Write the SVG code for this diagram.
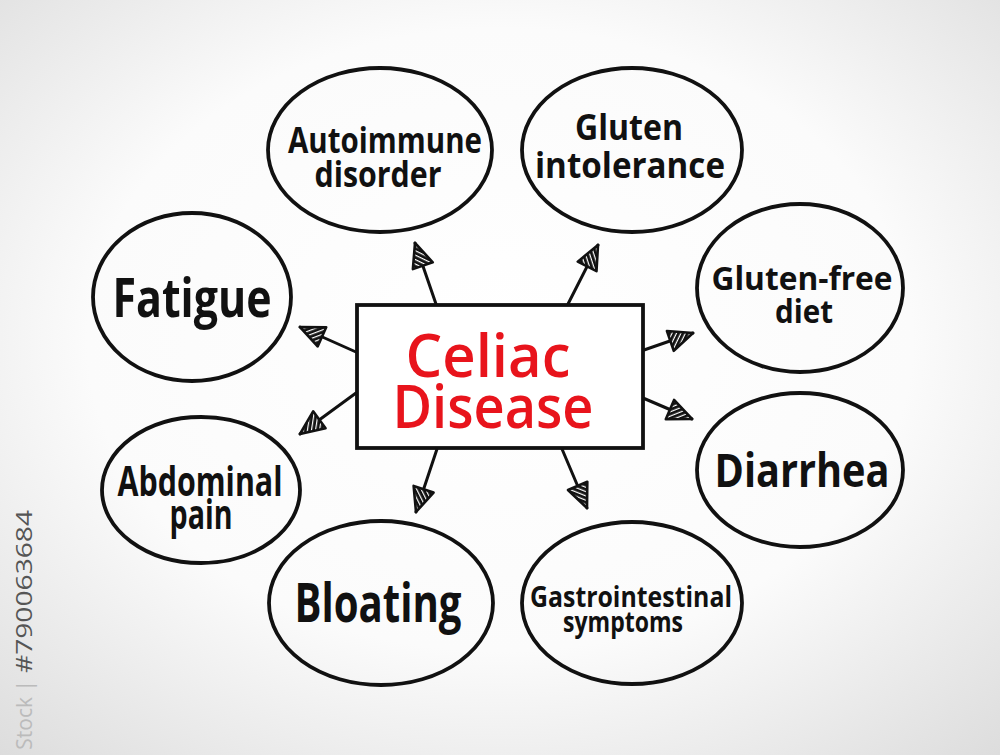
<svg xmlns="http://www.w3.org/2000/svg" width="1000" height="755" viewBox="0 0 1000 755">
  <defs>
    <radialGradient id="bg" cx="50%" cy="45%" r="75%">
      <stop offset="0" stop-color="#ffffff"/>
      <stop offset="0.55" stop-color="#fbfbfb"/>
      <stop offset="1" stop-color="#dcdcdc"/>
    </radialGradient>
    <pattern id="hatch" patternUnits="userSpaceOnUse" width="4" height="4" patternTransform="rotate(45)">
      <rect width="4" height="4" fill="#ffffff"/>
      <rect width="2.8" height="4" fill="#111"/>
    </pattern>
    <marker id="arr" markerUnits="userSpaceOnUse" markerWidth="30" markerHeight="26" refX="25" refY="12" orient="auto" overflow="visible">
      <path d="M1,1.5 L25,12 L1,22.5 Z" fill="url(#hatch)" stroke="#111" stroke-width="2.6" stroke-linejoin="round"/>
    </marker>
    <style>
      .node ellipse { fill: none; stroke: #111; stroke-width: 3.8; }
      .lbl { font-family: "Open Sans", "Liberation Sans", sans-serif; font-weight: 700; fill: #111; text-anchor: middle; }
      .conn line { stroke: #111; stroke-width: 3; stroke-linecap: round; marker-end: url(#arr); }
      .title { font-family: "Open Sans", "Liberation Sans", sans-serif; font-weight: 600; fill: #e8141c; text-anchor: middle; font-size: 60px; }
    </style>
  </defs>
  <rect width="1000" height="755" fill="url(#bg)"/>

  <g id="connectors" class="conn">
    <line x1="436" y1="304" x2="415" y2="243"/>
    <line x1="568" y1="304" x2="598" y2="245"/>
    <line x1="644" y1="350" x2="693" y2="333"/>
    <line x1="643" y1="398" x2="692" y2="419"/>
    <line x1="562" y1="449" x2="587" y2="508"/>
    <line x1="437" y1="449" x2="416" y2="512"/>
    <line x1="356" y1="352" x2="300" y2="327"/>
    <line x1="356" y1="393" x2="300" y2="434"/>
  </g>

  <g id="center">
    <rect x="357" y="305" width="286" height="143" fill="#ffffff" stroke="#111" stroke-width="3.8"/>
    <text class="title"><tspan x="488" y="377" textLength="165" lengthAdjust="spacingAndGlyphs">Celiac</tspan><tspan x="493" y="428" textLength="201" lengthAdjust="spacingAndGlyphs">Disease</tspan></text>
  </g>

  <g id="autoimmune" class="node">
    <ellipse cx="380" cy="150" rx="112" ry="82"/>
    <text class="lbl" font-size="35"><tspan x="385" y="153" textLength="194" lengthAdjust="spacingAndGlyphs">Autoimmune</tspan><tspan x="378" y="187" textLength="127" lengthAdjust="spacingAndGlyphs">disorder</tspan></text>
  </g>

  <g id="gluten-intolerance" class="node">
    <ellipse cx="632" cy="150" rx="110" ry="82"/>
    <text class="lbl" font-size="35"><tspan x="629" y="140" textLength="108" lengthAdjust="spacingAndGlyphs">Gluten</tspan><tspan x="630" y="178" textLength="190" lengthAdjust="spacingAndGlyphs">intolerance</tspan></text>
  </g>

  <g id="gluten-free" class="node">
    <ellipse cx="800" cy="288" rx="103" ry="84"/>
    <text class="lbl" font-size="32"><tspan x="802" y="290" textLength="181" lengthAdjust="spacingAndGlyphs">Gluten-free</tspan><tspan x="804" y="323" textLength="58" lengthAdjust="spacingAndGlyphs">diet</tspan></text>
  </g>

  <g id="fatigue" class="node">
    <ellipse cx="192" cy="297" rx="99" ry="84"/>
    <text class="lbl" x="192" y="317" font-size="54" textLength="159" lengthAdjust="spacingAndGlyphs">Fatigue</text>
  </g>

  <g id="diarrhea" class="node">
    <ellipse cx="800" cy="470" rx="103" ry="77"/>
    <text class="lbl" x="802" y="487" font-size="47" textLength="175" lengthAdjust="spacingAndGlyphs">Diarrhea</text>
  </g>

  <g id="abdominal-pain" class="node">
    <ellipse cx="201" cy="490" rx="99" ry="73"/>
    <text class="lbl" font-size="41"><tspan x="200" y="496" textLength="165" lengthAdjust="spacingAndGlyphs">Abdominal</tspan><tspan x="201" y="529" textLength="63" lengthAdjust="spacingAndGlyphs">pain</tspan></text>
  </g>

  <g id="bloating" class="node">
    <ellipse cx="381" cy="603" rx="112" ry="82"/>
    <text class="lbl" x="378" y="622" font-size="54" textLength="167" lengthAdjust="spacingAndGlyphs">Bloating</text>
  </g>

  <g id="gastrointestinal" class="node">
    <ellipse cx="632" cy="603" rx="110" ry="81"/>
    <text class="lbl" font-size="29"><tspan x="631" y="607" textLength="202" lengthAdjust="spacingAndGlyphs">Gastrointestinal</tspan><tspan x="623" y="632" textLength="120" lengthAdjust="spacingAndGlyphs">symptoms</tspan></text>
  </g>

  <g id="stock-id" font-family="Open Sans, Liberation Sans, sans-serif">
    <text transform="translate(32,673) rotate(-90)" font-size="21" fill="#555" textLength="163" lengthAdjust="spacingAndGlyphs">#790063684</text>
    <text transform="translate(32,680) rotate(-90)" font-size="21" fill="#bbb" text-anchor="end">Stock |</text>
  </g>
</svg>
